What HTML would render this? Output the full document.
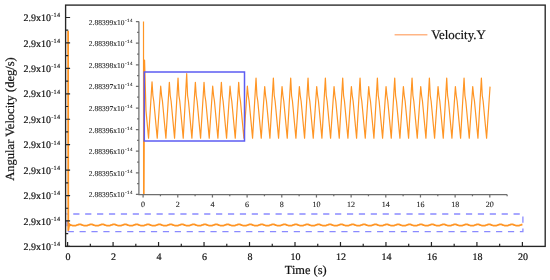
<!DOCTYPE html>
<html><head><meta charset="utf-8"><title>Angular Velocity</title>
<style>html,body{margin:0;padding:0;background:#fff;}body{width:550px;height:280px;overflow:hidden;}svg{display:block;}text{text-rendering:geometricPrecision;}</style>
</head><body>
<svg width="550" height="280" viewBox="0 0 550 280">
<rect width="550" height="280" fill="#fff"/>
<path d="M67.2 214.0 H522.9 V231.6 H67.2 Z" stroke="#8a8aff" stroke-width="1.3" fill="none" stroke-dasharray="6.2 5.7" stroke-dashoffset="5.85"/>
<path d="M68.1 30.7 L68.3 230.3 L69.3 224 L70.2 225.2 L70.44 224.85 L71.01 225.05 L71.58 225.24 L72.15 225.41 L72.72 225.55 L73.28 225.65 L73.85 225.7 L74.42 225.69 L74.99 225.63 L75.56 225.53 L76.13 225.38 L76.7 225.2 L77.26 225.01 L77.83 224.81 L78.4 224.62 L78.97 224.44 L79.54 224.3 L80.11 224.32 L80.68 224.48 L81.24 224.65 L81.81 224.85 L82.38 225.05 L82.95 225.24 L83.52 225.41 L84.09 225.55 L84.66 225.65 L85.22 225.7 L85.79 225.69 L86.36 225.63 L86.93 225.53 L87.5 225.38 L88.07 225.2 L88.63 225.01 L89.2 224.81 L89.77 224.62 L90.34 224.44 L90.91 224.3 L91.48 224.32 L92.05 224.48 L92.61 224.65 L93.18 224.85 L93.75 225.05 L94.32 225.24 L94.89 225.41 L95.46 225.55 L96.02 225.65 L96.59 225.7 L97.16 225.69 L97.73 225.63 L98.3 225.53 L98.87 225.38 L99.44 225.2 L100 225.01 L100.57 224.81 L101.14 224.62 L101.71 224.44 L102.28 224.3 L102.85 224.32 L103.42 224.48 L103.98 224.65 L104.55 224.85 L105.12 225.05 L105.69 225.24 L106.26 225.41 L106.83 225.55 L107.39 225.65 L107.96 225.7 L108.53 225.69 L109.1 225.63 L109.67 225.53 L110.24 225.38 L110.81 225.2 L111.37 225.01 L111.94 224.81 L112.51 224.62 L113.08 224.44 L113.65 224.3 L114.22 224.32 L114.79 224.48 L115.35 224.65 L115.92 224.85 L116.49 225.05 L117.06 225.24 L117.63 225.41 L118.2 225.55 L118.76 225.65 L119.33 225.7 L119.9 225.69 L120.47 225.63 L121.04 225.53 L121.61 225.38 L122.18 225.2 L122.74 225.01 L123.31 224.81 L123.88 224.62 L124.45 224.44 L125.02 224.3 L125.59 224.32 L126.16 224.48 L126.72 224.65 L127.29 224.85 L127.86 225.05 L128.43 225.24 L129 225.41 L129.57 225.55 L130.13 225.65 L130.7 225.7 L131.27 225.69 L131.84 225.63 L132.41 225.53 L132.98 225.38 L133.55 225.2 L134.11 225.01 L134.68 224.81 L135.25 224.62 L135.82 224.44 L136.39 224.3 L136.96 224.32 L137.53 224.48 L138.09 224.65 L138.66 224.85 L139.23 225.05 L139.8 225.24 L140.37 225.41 L140.94 225.55 L141.5 225.65 L142.07 225.7 L142.64 225.69 L143.21 225.63 L143.78 225.53 L144.35 225.38 L144.92 225.2 L145.48 225.01 L146.05 224.81 L146.62 224.62 L147.19 224.44 L147.76 224.3 L148.33 224.32 L148.9 224.48 L149.46 224.65 L150.03 224.85 L150.6 225.05 L151.17 225.24 L151.74 225.41 L152.31 225.55 L152.87 225.65 L153.44 225.7 L154.01 225.69 L154.58 225.63 L155.15 225.53 L155.72 225.38 L156.29 225.2 L156.85 225.01 L157.42 224.81 L157.99 224.62 L158.56 224.44 L159.13 224.3 L159.7 224.32 L160.27 224.48 L160.83 224.65 L161.4 224.85 L161.97 225.05 L162.54 225.24 L163.11 225.41 L163.68 225.55 L164.24 225.65 L164.81 225.7 L165.38 225.69 L165.95 225.63 L166.52 225.53 L167.09 225.38 L167.66 225.2 L168.22 225.01 L168.79 224.81 L169.36 224.62 L169.93 224.44 L170.5 224.3 L171.07 224.32 L171.64 224.48 L172.2 224.65 L172.77 224.85 L173.34 225.05 L173.91 225.24 L174.48 225.41 L175.05 225.55 L175.61 225.65 L176.18 225.7 L176.75 225.69 L177.32 225.63 L177.89 225.53 L178.46 225.38 L179.03 225.2 L179.59 225.01 L180.16 224.81 L180.73 224.62 L181.3 224.44 L181.87 224.3 L182.44 224.32 L183.01 224.48 L183.57 224.65 L184.14 224.85 L184.71 225.05 L185.28 225.24 L185.85 225.41 L186.42 225.55 L186.99 225.65 L187.55 225.7 L188.12 225.69 L188.69 225.63 L189.26 225.53 L189.83 225.38 L190.4 225.2 L190.96 225.01 L191.53 224.81 L192.1 224.62 L192.67 224.44 L193.24 224.3 L193.81 224.32 L194.38 224.48 L194.94 224.65 L195.51 224.85 L196.08 225.05 L196.65 225.24 L197.22 225.41 L197.79 225.55 L198.36 225.65 L198.92 225.7 L199.49 225.69 L200.06 225.63 L200.63 225.53 L201.2 225.38 L201.77 225.2 L202.33 225.01 L202.9 224.81 L203.47 224.62 L204.04 224.44 L204.61 224.3 L205.18 224.32 L205.75 224.48 L206.31 224.65 L206.88 224.85 L207.45 225.05 L208.02 225.24 L208.59 225.41 L209.16 225.55 L209.73 225.65 L210.29 225.7 L210.86 225.69 L211.43 225.63 L212 225.53 L212.57 225.38 L213.14 225.2 L213.7 225.01 L214.27 224.81 L214.84 224.62 L215.41 224.44 L215.98 224.3 L216.55 224.32 L217.12 224.48 L217.68 224.65 L218.25 224.85 L218.82 225.05 L219.39 225.24 L219.96 225.41 L220.53 225.55 L221.1 225.65 L221.66 225.7 L222.23 225.69 L222.8 225.63 L223.37 225.53 L223.94 225.38 L224.51 225.2 L225.07 225.01 L225.64 224.81 L226.21 224.62 L226.78 224.44 L227.35 224.3 L227.92 224.32 L228.49 224.48 L229.05 224.65 L229.62 224.85 L230.19 225.05 L230.76 225.24 L231.33 225.41 L231.9 225.55 L232.47 225.65 L233.03 225.7 L233.6 225.69 L234.17 225.63 L234.74 225.53 L235.31 225.38 L235.88 225.2 L236.44 225.01 L237.01 224.81 L237.58 224.62 L238.15 224.44 L238.72 224.3 L239.29 224.32 L239.86 224.48 L240.42 224.65 L240.99 224.85 L241.56 225.05 L242.13 225.24 L242.7 225.41 L243.27 225.55 L243.84 225.65 L244.4 225.7 L244.97 225.69 L245.54 225.63 L246.11 225.53 L246.68 225.38 L247.25 225.2 L247.81 225.01 L248.38 224.81 L248.95 224.62 L249.52 224.44 L250.09 224.3 L250.66 224.32 L251.23 224.48 L251.79 224.65 L252.36 224.85 L252.93 225.05 L253.5 225.24 L254.07 225.41 L254.64 225.55 L255.21 225.65 L255.77 225.7 L256.34 225.69 L256.91 225.63 L257.48 225.53 L258.05 225.38 L258.62 225.2 L259.18 225.01 L259.75 224.81 L260.32 224.62 L260.89 224.44 L261.46 224.3 L262.03 224.32 L262.6 224.48 L263.16 224.65 L263.73 224.85 L264.3 225.05 L264.87 225.24 L265.44 225.41 L266.01 225.55 L266.58 225.65 L267.14 225.7 L267.71 225.69 L268.28 225.63 L268.85 225.53 L269.42 225.38 L269.99 225.2 L270.55 225.01 L271.12 224.81 L271.69 224.62 L272.26 224.44 L272.83 224.3 L273.4 224.32 L273.97 224.48 L274.53 224.65 L275.1 224.85 L275.67 225.05 L276.24 225.24 L276.81 225.41 L277.38 225.55 L277.95 225.65 L278.51 225.7 L279.08 225.69 L279.65 225.63 L280.22 225.53 L280.79 225.38 L281.36 225.2 L281.92 225.01 L282.49 224.81 L283.06 224.62 L283.63 224.44 L284.2 224.3 L284.77 224.32 L285.34 224.48 L285.9 224.65 L286.47 224.85 L287.04 225.05 L287.61 225.24 L288.18 225.41 L288.75 225.55 L289.32 225.65 L289.88 225.7 L290.45 225.69 L291.02 225.63 L291.59 225.53 L292.16 225.38 L292.73 225.2 L293.29 225.01 L293.86 224.81 L294.43 224.62 L295 224.44 L295.57 224.3 L296.14 224.32 L296.71 224.48 L297.27 224.65 L297.84 224.85 L298.41 225.05 L298.98 225.24 L299.55 225.41 L300.12 225.55 L300.69 225.65 L301.25 225.7 L301.82 225.69 L302.39 225.63 L302.96 225.53 L303.53 225.38 L304.1 225.2 L304.66 225.01 L305.23 224.81 L305.8 224.62 L306.37 224.44 L306.94 224.3 L307.51 224.32 L308.08 224.48 L308.64 224.65 L309.21 224.85 L309.78 225.05 L310.35 225.24 L310.92 225.41 L311.49 225.55 L312.06 225.65 L312.62 225.7 L313.19 225.69 L313.76 225.63 L314.33 225.53 L314.9 225.38 L315.47 225.2 L316.03 225.01 L316.6 224.81 L317.17 224.62 L317.74 224.44 L318.31 224.3 L318.88 224.32 L319.45 224.48 L320.01 224.65 L320.58 224.85 L321.15 225.05 L321.72 225.24 L322.29 225.41 L322.86 225.55 L323.43 225.65 L323.99 225.7 L324.56 225.69 L325.13 225.63 L325.7 225.53 L326.27 225.38 L326.84 225.2 L327.4 225.01 L327.97 224.81 L328.54 224.62 L329.11 224.44 L329.68 224.3 L330.25 224.32 L330.82 224.48 L331.38 224.65 L331.95 224.85 L332.52 225.05 L333.09 225.24 L333.66 225.41 L334.23 225.55 L334.8 225.65 L335.36 225.7 L335.93 225.69 L336.5 225.63 L337.07 225.53 L337.64 225.38 L338.21 225.2 L338.77 225.01 L339.34 224.81 L339.91 224.62 L340.48 224.44 L341.05 224.3 L341.62 224.32 L342.19 224.48 L342.75 224.65 L343.32 224.85 L343.89 225.05 L344.46 225.24 L345.03 225.41 L345.6 225.55 L346.17 225.65 L346.73 225.7 L347.3 225.69 L347.87 225.63 L348.44 225.53 L349.01 225.38 L349.58 225.2 L350.14 225.01 L350.71 224.81 L351.28 224.62 L351.85 224.44 L352.42 224.3 L352.99 224.32 L353.56 224.48 L354.12 224.65 L354.69 224.85 L355.26 225.05 L355.83 225.24 L356.4 225.41 L356.97 225.55 L357.54 225.65 L358.1 225.7 L358.67 225.69 L359.24 225.63 L359.81 225.53 L360.38 225.38 L360.95 225.2 L361.51 225.01 L362.08 224.81 L362.65 224.62 L363.22 224.44 L363.79 224.3 L364.36 224.32 L364.93 224.48 L365.49 224.65 L366.06 224.85 L366.63 225.05 L367.2 225.24 L367.77 225.41 L368.34 225.55 L368.91 225.65 L369.47 225.7 L370.04 225.69 L370.61 225.63 L371.18 225.53 L371.75 225.38 L372.32 225.2 L372.88 225.01 L373.45 224.81 L374.02 224.62 L374.59 224.44 L375.16 224.3 L375.73 224.32 L376.3 224.48 L376.86 224.65 L377.43 224.85 L378 225.05 L378.57 225.24 L379.14 225.41 L379.71 225.55 L380.28 225.65 L380.84 225.7 L381.41 225.69 L381.98 225.63 L382.55 225.53 L383.12 225.38 L383.69 225.2 L384.25 225.01 L384.82 224.81 L385.39 224.62 L385.96 224.44 L386.53 224.3 L387.1 224.32 L387.67 224.48 L388.23 224.65 L388.8 224.85 L389.37 225.05 L389.94 225.24 L390.51 225.41 L391.08 225.55 L391.65 225.65 L392.21 225.7 L392.78 225.69 L393.35 225.63 L393.92 225.53 L394.49 225.38 L395.06 225.2 L395.62 225.01 L396.19 224.81 L396.76 224.62 L397.33 224.44 L397.9 224.3 L398.47 224.32 L399.04 224.48 L399.6 224.65 L400.17 224.85 L400.74 225.05 L401.31 225.24 L401.88 225.41 L402.45 225.55 L403.02 225.65 L403.58 225.7 L404.15 225.69 L404.72 225.63 L405.29 225.53 L405.86 225.38 L406.43 225.2 L406.99 225.01 L407.56 224.81 L408.13 224.62 L408.7 224.44 L409.27 224.3 L409.84 224.32 L410.41 224.48 L410.97 224.65 L411.54 224.85 L412.11 225.05 L412.68 225.24 L413.25 225.41 L413.82 225.55 L414.39 225.65 L414.95 225.7 L415.52 225.69 L416.09 225.63 L416.66 225.53 L417.23 225.38 L417.8 225.2 L418.36 225.01 L418.93 224.81 L419.5 224.62 L420.07 224.44 L420.64 224.3 L421.21 224.32 L421.78 224.48 L422.34 224.65 L422.91 224.85 L423.48 225.05 L424.05 225.24 L424.62 225.41 L425.19 225.55 L425.76 225.65 L426.32 225.7 L426.89 225.69 L427.46 225.63 L428.03 225.53 L428.6 225.38 L429.17 225.2 L429.73 225.01 L430.3 224.81 L430.87 224.62 L431.44 224.44 L432.01 224.3 L432.58 224.32 L433.15 224.48 L433.71 224.65 L434.28 224.85 L434.85 225.05 L435.42 225.24 L435.99 225.41 L436.56 225.55 L437.13 225.65 L437.69 225.7 L438.26 225.69 L438.83 225.63 L439.4 225.53 L439.97 225.38 L440.54 225.2 L441.1 225.01 L441.67 224.81 L442.24 224.62 L442.81 224.44 L443.38 224.3 L443.95 224.32 L444.52 224.48 L445.08 224.65 L445.65 224.85 L446.22 225.05 L446.79 225.24 L447.36 225.41 L447.93 225.55 L448.5 225.65 L449.06 225.7 L449.63 225.69 L450.2 225.63 L450.77 225.53 L451.34 225.38 L451.91 225.2 L452.47 225.01 L453.04 224.81 L453.61 224.62 L454.18 224.44 L454.75 224.3 L455.32 224.32 L455.89 224.48 L456.45 224.65 L457.02 224.85 L457.59 225.05 L458.16 225.24 L458.73 225.41 L459.3 225.55 L459.87 225.65 L460.43 225.7 L461 225.69 L461.57 225.63 L462.14 225.53 L462.71 225.38 L463.28 225.2 L463.84 225.01 L464.41 224.81 L464.98 224.62 L465.55 224.44 L466.12 224.3 L466.69 224.32 L467.26 224.48 L467.82 224.65 L468.39 224.85 L468.96 225.05 L469.53 225.24 L470.1 225.41 L470.67 225.55 L471.24 225.65 L471.8 225.7 L472.37 225.69 L472.94 225.63 L473.51 225.53 L474.08 225.38 L474.65 225.2 L475.21 225.01 L475.78 224.81 L476.35 224.62 L476.92 224.44 L477.49 224.3 L478.06 224.32 L478.63 224.48 L479.19 224.65 L479.76 224.85 L480.33 225.05 L480.9 225.24 L481.47 225.41 L482.04 225.55 L482.61 225.65 L483.17 225.7 L483.74 225.69 L484.31 225.63 L484.88 225.53 L485.45 225.38 L486.02 225.2 L486.58 225.01 L487.15 224.81 L487.72 224.62 L488.29 224.44 L488.86 224.3 L489.43 224.32 L490 224.48 L490.56 224.65 L491.13 224.85 L491.7 225.05 L492.27 225.24 L492.84 225.41 L493.41 225.55 L493.98 225.65 L494.54 225.7 L495.11 225.69 L495.68 225.63 L496.25 225.53 L496.82 225.38 L497.39 225.2 L497.95 225.01 L498.52 224.81 L499.09 224.62 L499.66 224.44 L500.23 224.3 L500.8 224.32 L501.37 224.48 L501.93 224.65 L502.5 224.85 L503.07 225.05 L503.64 225.24 L504.21 225.41 L504.78 225.55 L505.34 225.65 L505.91 225.7 L506.48 225.69 L507.05 225.63 L507.62 225.53 L508.19 225.38 L508.76 225.2 L509.32 225.01 L509.89 224.81 L510.46 224.62 L511.03 224.44 L511.6 224.3 L512.17 224.32 L512.74 224.48 L513.3 224.65 L513.87 224.85 L514.44 225.05 L515.01 225.24 L515.58 225.41 L516.15 225.55 L516.71 225.65 L517.28 225.7 L517.85 225.69 L518.42 225.63 L518.99 225.53 L519.56 225.38 L520.13 225.2 L520.69 225.01 L521.26 224.81 L521.83 224.62 L522.4 224.44" fill="none" stroke="#ff9524" stroke-width="1.8" stroke-linejoin="round"/>
<rect x="65.6" y="5.1" width="479.6" height="241.3" fill="none" stroke="#262626" stroke-width="1.35"/>
<path d="M67.6 246.4 V241.9 M90.34 246.4 V243.8 M113.08 246.4 V241.9 M135.82 246.4 V243.8 M158.56 246.4 V241.9 M181.3 246.4 V243.8 M204.04 246.4 V241.9 M226.78 246.4 V243.8 M249.52 246.4 V241.9 M272.26 246.4 V243.8 M295 246.4 V241.9 M317.74 246.4 V243.8 M340.48 246.4 V241.9 M363.22 246.4 V243.8 M385.96 246.4 V241.9 M408.7 246.4 V243.8 M431.44 246.4 V241.9 M454.18 246.4 V243.8 M476.92 246.4 V241.9 M499.66 246.4 V243.8 M522.4 246.4 V241.9 M65.6 17.5 H70.1 M65.6 30.22 H68.2 M65.6 42.93 H70.1 M65.6 55.65 H68.2 M65.6 68.37 H70.1 M65.6 81.08 H68.2 M65.6 93.8 H70.1 M65.6 106.52 H68.2 M65.6 119.23 H70.1 M65.6 131.95 H68.2 M65.6 144.67 H70.1 M65.6 157.38 H68.2 M65.6 170.1 H70.1 M65.6 182.82 H68.2 M65.6 195.53 H70.1 M65.6 208.25 H68.2 M65.6 220.97 H70.1 M65.6 233.68 H68.2 M65.6 246.4 H70.1" stroke="#262626" stroke-width="1.2" fill="none"/>
<g font-family="Liberation Serif, serif" font-size="10" fill="#111" stroke="#111" stroke-width="0.2" text-anchor="middle">
<text x="68.1" y="259.5">0</text>
<text x="113.58" y="259.5">2</text>
<text x="159.06" y="259.5">4</text>
<text x="204.54" y="259.5">6</text>
<text x="250.02" y="259.5">8</text>
<text x="295.5" y="259.5">10</text>
<text x="340.98" y="259.5">12</text>
<text x="386.46" y="259.5">14</text>
<text x="431.94" y="259.5">16</text>
<text x="477.42" y="259.5">18</text>
<text x="522.9" y="259.5">20</text>
</g>
<g font-family="Liberation Serif, serif" font-size="10" fill="#111" stroke="#111" stroke-width="0.2" text-anchor="end">
<text x="60.3" y="21.1">2.9x10<tspan font-size="6.2" dx="0.2" dy="-3.7" letter-spacing="0.25" stroke-width="0.1">-14</tspan></text>
<text x="60.3" y="46.53">2.9x10<tspan font-size="6.2" dx="0.2" dy="-3.7" letter-spacing="0.25" stroke-width="0.1">-14</tspan></text>
<text x="60.3" y="71.97">2.9x10<tspan font-size="6.2" dx="0.2" dy="-3.7" letter-spacing="0.25" stroke-width="0.1">-14</tspan></text>
<text x="60.3" y="97.4">2.9x10<tspan font-size="6.2" dx="0.2" dy="-3.7" letter-spacing="0.25" stroke-width="0.1">-14</tspan></text>
<text x="60.3" y="122.83">2.9x10<tspan font-size="6.2" dx="0.2" dy="-3.7" letter-spacing="0.25" stroke-width="0.1">-14</tspan></text>
<text x="60.3" y="148.27">2.9x10<tspan font-size="6.2" dx="0.2" dy="-3.7" letter-spacing="0.25" stroke-width="0.1">-14</tspan></text>
<text x="60.3" y="173.7">2.9x10<tspan font-size="6.2" dx="0.2" dy="-3.7" letter-spacing="0.25" stroke-width="0.1">-14</tspan></text>
<text x="60.3" y="199.13">2.9x10<tspan font-size="6.2" dx="0.2" dy="-3.7" letter-spacing="0.25" stroke-width="0.1">-14</tspan></text>
<text x="60.3" y="224.57">2.9x10<tspan font-size="6.2" dx="0.2" dy="-3.7" letter-spacing="0.25" stroke-width="0.1">-14</tspan></text>
<text x="60.3" y="250">2.9x10<tspan font-size="6.2" dx="0.2" dy="-3.7" letter-spacing="0.25" stroke-width="0.1">-14</tspan></text>
</g>
<text x="305.7" y="274.3" font-family="Liberation Serif, serif" font-size="12.4" fill="#111" stroke="#111" stroke-width="0.2" text-anchor="middle">Time (s)</text>
<text transform="translate(13.5 119) rotate(-90)" font-family="Liberation Serif, serif" font-size="12.5" fill="#111" stroke="#111" stroke-width="0.2" text-anchor="middle">Angular Velocity (deg/s)</text>
<line x1="394.6" y1="34.8" x2="427.4" y2="34.8" stroke="#ffb585" stroke-width="1.6"/>
<text x="431.2" y="38.6" font-family="Liberation Serif, serif" font-size="12.9" fill="#111" stroke="#111" stroke-width="0.2">Velocity.Y</text>
<path d="M143.5 21.6 L143.6 194.6 M144.05 194.6 L144.55 60 L145.96 110.3 L146.83 119.6 L147.69 128.9 L148.56 138.2 L149.43 124.12 L150.29 110.05 L151.16 95.97 L152.03 81.9 L152.89 95.5 L153.76 101 L154.63 110.3 L155.49 119.6 L156.36 128.9 L157.23 138.2 L158.09 125.2 L158.96 112.2 L159.83 99.2 L160.7 86.2 L161.56 95.5 L162.43 101 L163.3 110.3 L164.16 119.6 L165.03 128.9 L165.9 138.2 L166.76 124.22 L167.63 110.25 L168.5 96.27 L169.36 82.3 L170.23 95.5 L171.1 101 L171.96 110.3 L172.83 119.6 L173.7 128.9 L174.56 138.2 L175.43 123.15 L176.3 108.1 L177.16 93.05 L178.03 78 L178.9 95.5 L179.76 101 L180.63 110.3 L181.5 119.6 L182.36 128.9 L183.23 138.2 L184.1 122.07 L184.96 105.95 L185.83 89.83 L186.7 73.7 L187.56 95.5 L188.43 101 L189.3 110.3 L190.16 119.6 L191.03 128.9 L191.9 138.2 L192.76 124.22 L193.63 110.25 L194.5 96.27 L195.37 82.3 L196.23 95.5 L197.1 101 L197.97 110.3 L198.83 119.6 L199.7 128.9 L200.57 138.2 L201.43 124.22 L202.3 110.25 L203.17 96.27 L204.03 82.3 L204.9 95.5 L205.77 101 L206.63 110.3 L207.5 119.6 L208.37 128.9 L209.23 138.2 L210.1 125.2 L210.97 112.2 L211.83 99.2 L212.7 86.2 L213.57 95.5 L214.43 101 L215.3 110.3 L216.17 119.6 L217.03 128.9 L217.9 138.2 L218.77 124.22 L219.63 110.25 L220.5 96.27 L221.37 82.3 L222.23 95.5 L223.1 101 L223.97 110.3 L224.83 119.6 L225.7 128.9 L226.57 138.2 L227.43 125.2 L228.3 112.2 L229.17 99.2 L230.04 86.2 L230.9 95.5 L231.77 101 L232.64 110.3 L233.5 119.6 L234.37 128.9 L235.24 138.2 L236.1 124.22 L236.97 110.25 L237.84 96.27 L238.7 82.3 L239.57 95.5 L240.44 101 L241.3 110.3 L242.17 119.6 L243.04 128.9 L243.9 138.2 L244.77 125.2 L245.64 112.2 L246.5 99.2 L247.37 86.2 L248.24 95.5 L249.1 101 L249.97 110.3 L250.84 119.6 L251.7 128.9 L252.57 138.2 L253.44 123.15 L254.3 108.1 L255.17 93.05 L256.04 78 L256.9 95.5 L257.77 101 L258.64 110.3 L259.5 119.6 L260.37 128.9 L261.24 138.2 L262.1 125.3 L262.97 112.4 L263.84 99.5 L264.71 86.6 L265.57 95.5 L266.44 101 L267.31 110.3 L268.17 119.6 L269.04 128.9 L269.91 138.2 L270.77 123.15 L271.64 108.1 L272.51 93.05 L273.37 78 L274.24 95.5 L275.11 101 L275.97 110.3 L276.84 119.6 L277.71 128.9 L278.57 138.2 L279.44 125.3 L280.31 112.4 L281.17 99.5 L282.04 86.6 L282.91 95.5 L283.77 101 L284.64 110.3 L285.51 119.6 L286.37 128.9 L287.24 138.2 L288.11 123.15 L288.97 108.1 L289.84 93.05 L290.71 78 L291.57 95.5 L292.44 101 L293.31 110.3 L294.17 119.6 L295.04 128.9 L295.91 138.2 L296.77 125.3 L297.64 112.4 L298.51 99.5 L299.38 86.6 L300.24 95.5 L301.11 101 L301.98 110.3 L302.84 119.6 L303.71 128.9 L304.58 138.2 L305.44 123.15 L306.31 108.1 L307.18 93.05 L308.04 78 L308.91 95.5 L309.78 101 L310.64 110.3 L311.51 119.6 L312.38 128.9 L313.24 138.2 L314.11 125.3 L314.98 112.4 L315.84 99.5 L316.71 86.6 L317.58 95.5 L318.44 101 L319.31 110.3 L320.18 119.6 L321.04 128.9 L321.91 138.2 L322.78 123.15 L323.64 108.1 L324.51 93.05 L325.38 78 L326.24 95.5 L327.11 101 L327.98 110.3 L328.84 119.6 L329.71 128.9 L330.58 138.2 L331.44 125.3 L332.31 112.4 L333.18 99.5 L334.05 86.6 L334.91 95.5 L335.78 101 L336.65 110.3 L337.51 119.6 L338.38 128.9 L339.25 138.2 L340.11 123.15 L340.98 108.1 L341.85 93.05 L342.71 78 L343.58 95.5 L344.45 101 L345.31 110.3 L346.18 119.6 L347.05 128.9 L347.91 138.2 L348.78 125.3 L349.65 112.4 L350.51 99.5 L351.38 86.6 L352.25 95.5 L353.11 101 L353.98 110.3 L354.85 119.6 L355.71 128.9 L356.58 138.2 L357.45 123.15 L358.31 108.1 L359.18 93.05 L360.05 78 L360.91 95.5 L361.78 101 L362.65 110.3 L363.51 119.6 L364.38 128.9 L365.25 138.2 L366.11 125.3 L366.98 112.4 L367.85 99.5 L368.72 86.6 L369.58 95.5 L370.45 101 L371.32 110.3 L372.18 119.6 L373.05 128.9 L373.92 138.2 L374.78 123.15 L375.65 108.1 L376.52 93.05 L377.38 78 L378.25 95.5 L379.12 101 L379.98 110.3 L380.85 119.6 L381.72 128.9 L382.58 138.2 L383.45 125.3 L384.32 112.4 L385.18 99.5 L386.05 86.6 L386.92 95.5 L387.78 101 L388.65 110.3 L389.52 119.6 L390.38 128.9 L391.25 138.2 L392.12 123.15 L392.98 108.1 L393.85 93.05 L394.72 78 L395.58 95.5 L396.45 101 L397.32 110.3 L398.18 119.6 L399.05 128.9 L399.92 138.2 L400.78 125.3 L401.65 112.4 L402.52 99.5 L403.39 86.6 L404.25 95.5 L405.12 101 L405.99 110.3 L406.85 119.6 L407.72 128.9 L408.59 138.2 L409.45 123.15 L410.32 108.1 L411.19 93.05 L412.05 78 L412.92 95.5 L413.79 101 L414.65 110.3 L415.52 119.6 L416.39 128.9 L417.25 138.2 L418.12 125.3 L418.99 112.4 L419.85 99.5 L420.72 86.6 L421.59 95.5 L422.45 101 L423.32 110.3 L424.19 119.6 L425.05 128.9 L425.92 138.2 L426.79 123.15 L427.65 108.1 L428.52 93.05 L429.39 78 L430.25 95.5 L431.12 101 L431.99 110.3 L432.85 119.6 L433.72 128.9 L434.59 138.2 L435.45 125.3 L436.32 112.4 L437.19 99.5 L438.06 86.6 L438.92 95.5 L439.79 101 L440.66 110.3 L441.52 119.6 L442.39 128.9 L443.26 138.2 L444.12 123.15 L444.99 108.1 L445.86 93.05 L446.72 78 L447.59 95.5 L448.46 101 L449.32 110.3 L450.19 119.6 L451.06 128.9 L451.92 138.2 L452.79 125.3 L453.66 112.4 L454.52 99.5 L455.39 86.6 L456.26 95.5 L457.12 101 L457.99 110.3 L458.86 119.6 L459.72 128.9 L460.59 138.2 L461.46 123.15 L462.32 108.1 L463.19 93.05 L464.06 78 L464.92 95.5 L465.79 101 L466.66 110.3 L467.52 119.6 L468.39 128.9 L469.26 138.2 L470.12 125.3 L470.99 112.4 L471.86 99.5 L472.73 86.6 L473.59 95.5 L474.46 101 L475.33 110.3 L476.19 119.6 L477.06 128.9 L477.93 138.2 L478.79 123.15 L479.66 108.1 L480.53 93.05 L481.39 78 L482.26 95.5 L483.13 101 L483.99 110.3 L484.86 119.6 L485.73 128.9 L486.59 138.2 L487.46 125.3 L488.33 112.4 L489.19 99.5 L490.06 86.6" fill="none" stroke="#ff9524" stroke-width="1.2" stroke-linejoin="round"/>
<rect x="144.3" y="72.0" width="100.2" height="69.0" fill="none" stroke="#5c5cf2" stroke-width="1.5"/>
<path d="M138.9 21.6 V194.6 H507.0 M138.9 21.6 H135.9 M138.9 32.4 H137.1 M138.9 43.2 H135.9 M138.9 54 H137.1 M138.9 64.8 H135.9 M138.9 75.6 H137.1 M138.9 86.4 H135.9 M138.9 97.2 H137.1 M138.9 108 H135.9 M138.9 118.8 H137.1 M138.9 129.6 H135.9 M138.9 140.4 H137.1 M138.9 151.2 H135.9 M138.9 162 H137.1 M138.9 172.8 H135.9 M138.9 183.6 H137.1 M138.9 194.4 H135.9 M143.1 194.6 V197.6 M160.44 194.6 V196.2 M177.77 194.6 V197.6 M195.1 194.6 V196.2 M212.44 194.6 V197.6 M229.78 194.6 V196.2 M247.11 194.6 V197.6 M264.44 194.6 V196.2 M281.78 194.6 V197.6 M299.12 194.6 V196.2 M316.45 194.6 V197.6 M333.78 194.6 V196.2 M351.12 194.6 V197.6 M368.46 194.6 V196.2 M385.79 194.6 V197.6 M403.12 194.6 V196.2 M420.46 194.6 V197.6 M437.79 194.6 V196.2 M455.13 194.6 V197.6 M472.47 194.6 V196.2 M489.8 194.6 V197.6 M507.13 194.6 V196.2" stroke="#6e6e6e" stroke-width="1.25" fill="none"/>
<g font-family="Liberation Serif, serif" font-size="7.5" fill="#1a1a1a" stroke="#1a1a1a" stroke-width="0.1" text-anchor="end">
<text x="133" y="24.5">2.88399x10<tspan font-size="5" dx="0.6" dy="-3" letter-spacing="0.45">-14</tspan></text>
<text x="133" y="46.1">2.88398x10<tspan font-size="5" dx="0.6" dy="-3" letter-spacing="0.45">-14</tspan></text>
<text x="133" y="67.7">2.88398x10<tspan font-size="5" dx="0.6" dy="-3" letter-spacing="0.45">-14</tspan></text>
<text x="133" y="89.3">2.88397x10<tspan font-size="5" dx="0.6" dy="-3" letter-spacing="0.45">-14</tspan></text>
<text x="133" y="110.9">2.88397x10<tspan font-size="5" dx="0.6" dy="-3" letter-spacing="0.45">-14</tspan></text>
<text x="133" y="132.5">2.88396x10<tspan font-size="5" dx="0.6" dy="-3" letter-spacing="0.45">-14</tspan></text>
<text x="133" y="154.1">2.88396x10<tspan font-size="5" dx="0.6" dy="-3" letter-spacing="0.45">-14</tspan></text>
<text x="133" y="175.7">2.88395x10<tspan font-size="5" dx="0.6" dy="-3" letter-spacing="0.45">-14</tspan></text>
<text x="133" y="197.3">2.88395x10<tspan font-size="5" dx="0.6" dy="-3" letter-spacing="0.45">-14</tspan></text>
</g>
<g font-family="Liberation Serif, serif" font-size="8" fill="#1a1a1a" stroke="#1a1a1a" stroke-width="0.1" text-anchor="middle">
<text x="143.1" y="206.7">0</text>
<text x="177.77" y="206.7">2</text>
<text x="212.44" y="206.7">4</text>
<text x="247.11" y="206.7">6</text>
<text x="281.78" y="206.7">8</text>
<text x="316.45" y="206.7">10</text>
<text x="351.12" y="206.7">12</text>
<text x="385.79" y="206.7">14</text>
<text x="420.46" y="206.7">16</text>
<text x="455.13" y="206.7">18</text>
<text x="489.8" y="206.7">20</text>
</g>
</svg>
</body></html>
